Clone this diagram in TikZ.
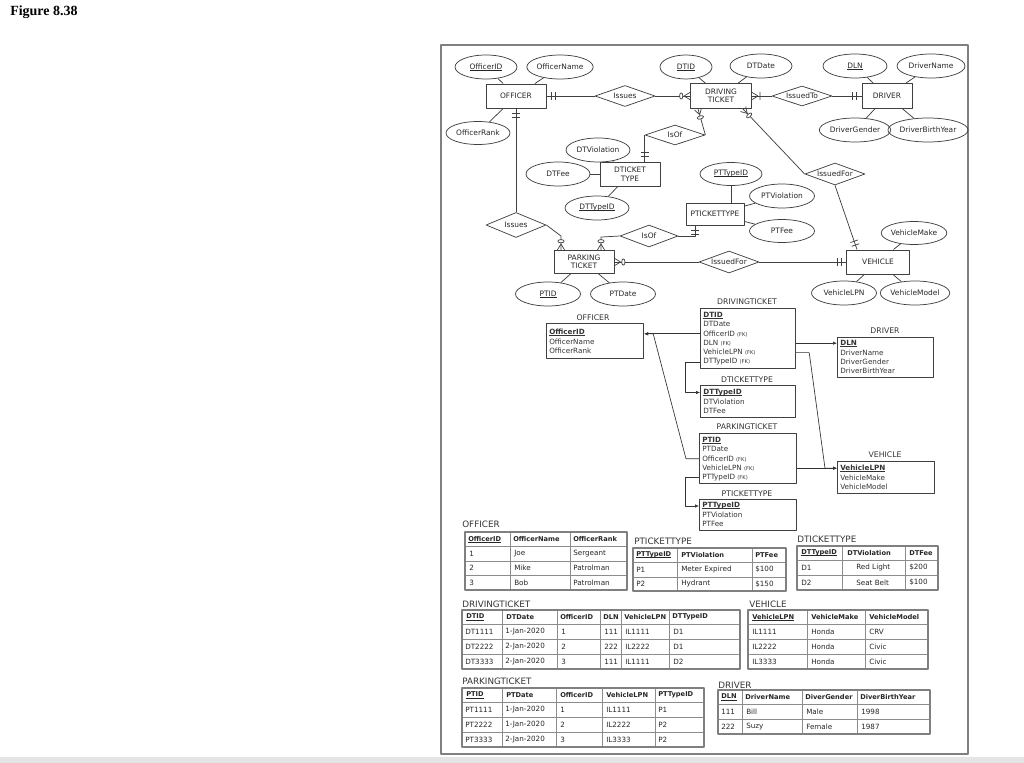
\documentclass[tikz,border=0pt]{standalone}
\usepackage{fontspec}
\setmainfont{DejaVu Sans}
\newfontfamily\titlefont{Liberation Serif}
\usetikzlibrary{shapes.geometric,arrows.meta,decorations.markings,calc}
\newcommand\uln[1]{{\setbox0\hbox{#1}\rlap{\raisebox{-0.7pt}{\rule{\wd0}{0.3pt}}}\box0}}
\newcommand\fkm{\ {\fontsize{3.9}{4.5}\selectfont(FK)}}
\newcommand\tcells[3]{\foreach \cx/\ct in {#3}{\node[#1] at (\cx,#2) {\ct};}}
\newcommand\tframe[6]{%
  \foreach \gx in {#5} \draw[tgrid] (\gx,#2) -- (\gx,#4);
  \foreach \gy in {#6} \draw[tgrid] (#1,\gy) -- (#3,\gy);
  \draw[tout] (#1,#2) rectangle (#3,#4);}
\tikzset{
  sz/.style 2 args={minimum width=#1*0.75pt, minimum height=#2*0.75pt},
  lnk/.style={draw=black!75, line width=0.55pt},
  erfont/.style={font=\fontsize{5.6}{6.4}\selectfont, text=black!85},
  attr/.style={ellipse, lnk, inner sep=0pt, erfont},
  ent/.style={rectangle, lnk, line width=0.7pt, inner sep=0pt, align=center, erfont},
  rel/.style={diamond, lnk, inner sep=0pt, aspect=2.9, erfont},
  mkone/.style={postaction={decorate, decoration={markings, mark=at position 0.999 with {\draw[lnk] (-3.5pt,-3pt)--(-3.5pt,3pt) (-6.5pt,-3pt)--(-6.5pt,3pt);}}}},
  mkzm/.style={postaction={decorate, decoration={markings, mark=at position 0.999 with {\draw[lnk] (-4.5pt,0pt)--(0pt,2.7pt) (-4.5pt,0pt)--(0pt,-2.7pt); \draw[lnk, fill=white] (-6.6pt,0pt) ellipse [x radius=1.2pt, y radius=2.4pt];}}}},
  mkom/.style={postaction={decorate, decoration={markings, mark=at position 0.999 with {\draw[lnk] (-4.5pt,0pt)--(0pt,2.7pt) (-4.5pt,0pt)--(0pt,-2.7pt) (-6pt,-3pt)--(-6pt,3pt);}}}},
  sbox/.style={rectangle, draw=black!75, line width=0.9pt, inner sep=0pt, anchor=north west},
  slab/.style={font=\fontsize{5.8}{6.5}\selectfont, text=black!80, inner sep=0pt},
  srow/.style={anchor=west, inner sep=0pt, font=\fontsize{5.4}{6}\selectfont, text=black!80},
  fkarrow/.style={draw=black!80, line width=0.5pt, -{Latex[length=3pt,width=2.6pt]}},
  tlab/.style={anchor=west, inner sep=0pt, font=\fontsize{6.6}{7}\selectfont, text=black!80},
  tgrid/.style={draw=black!45, line width=0.5pt},
  tout/.style={draw=black!50, line width=0.8pt},
  cell/.style={anchor=west, inner sep=0pt, font=\fontsize{5.4}{6}\selectfont, text=black!85},
  hcell/.style={anchor=west, inner sep=0pt, font=\fontsize{5}{6}\selectfont\bfseries, text=black!85},
}
\begin{document}
\begin{tikzpicture}[x=0.75pt, y=-0.75pt, line join=round]
\useasboundingbox (0,0) rectangle (1024,763);
\fill[black!10] (0,757) rectangle (1024,763);
\node[anchor=west, inner sep=0pt, font=\titlefont\bfseries\fontsize{10.5}{12}\selectfont] (title) at (10,12) {Figure 8.38};
\draw[draw=black!50, line width=0.8pt] (441,45) rectangle (968,754);

% ---------------- ER diagram ----------------
\node[attr, sz={62}{24}] (oid) at (486,67) {\uln{OfficerID}};
\node[attr, sz={66}{24}] (oname) at (560,67) {OfficerName};
\node[attr, sz={64}{23}] (orank) at (478,133) {OfficerRank};
\node[attr, sz={52}{24}] (dtid) at (686,67) {\uln{DTID}};
\node[attr, sz={62}{24}] (dtdate) at (761,66) {DTDate};
\node[attr, sz={64}{24}] (dln) at (855,66) {\uln{DLN}};
\node[attr, sz={68}{24}] (dname) at (931,66) {DriverName};
\node[attr, sz={64}{24}] (dgender) at (855,130) {DriverGender};
\node[attr, sz={66}{24}] (dbirth) at (928,130) {DriverBirthYear};
\node[ent, sz={60}{24}] (officer) at (516,96) {OFFICER};
\node[ent, sz={61}{25}] (dt) at (721,96) {DRIVING\\TICKET};
\node[ent, sz={50}{25}] (driver) at (887,96) {DRIVER};
\node[rel, sz={60}{21}] (iss1) at (625,96) {Issues};
\node[rel, sz={60}{20}] (issto) at (802,96) {IssuedTo};
\node[rel, sz={60}{20}] (isof1) at (675,135) {IsOf};
\node[attr, sz={64}{24}] (dtviol) at (598,150) {DTViolation};
\node[ent, sz={60}{24}] (dtt) at (630,174) {DTICKET\\TYPE};
\node[attr, sz={64}{24}] (dtfee) at (558,174) {DTFee};
\node[attr, sz={64}{24}] (dttid) at (597,208) {\uln{DTTypeID}};
\node[attr, sz={62}{23}] (pttid) at (731,174) {\uln{PTTypeID}};
\node[ent, sz={58}{22}] (ptt) at (715,214) {PTICKETTYPE};
\node[attr, sz={65}{24}] (ptviol) at (782,196) {PTViolation};
\node[attr, sz={65}{23}] (ptfee) at (782,231) {PTFee};
\node[rel, sz={60}{22}] (issfor1) at (835,174) {IssuedFor};
\node[ent, sz={63}{24}] (veh) at (878,262) {VEHICLE};
\node[attr, sz={65}{23}] (vmake) at (914,233) {VehicleMake};
\node[attr, sz={65}{24}] (vlpn) at (844,293) {VehicleLPN};
\node[attr, sz={66}{24}] (vmodel) at (915,293) {VehicleModel};
\node[rel, sz={60}{22}] (issfor2) at (729,262) {IssuedFor};
\node[rel, sz={60}{25}] (iss2) at (516,225) {Issues};
\node[rel, sz={58}{22}] (isof2) at (649,236) {IsOf};
\node[ent, sz={60}{23}] (pt) at (584,262) {PARKING\\TICKET};
\node[attr, sz={65}{24}] (ptid) at (548,294) {\uln{PTID}};
\node[attr, sz={65}{24}] (ptdate) at (623,294) {PTDate};

\draw[lnk] (oid) -- (officer);
\draw[lnk] (oname) -- (officer);
\draw[lnk] (orank) -- (officer);
\draw[lnk] (dtid) -- (dt);
\draw[lnk] (dtdate) -- (dt);
\draw[lnk] (dln) -- (driver);
\draw[lnk] (dname) -- (driver);
\draw[lnk] (dgender) -- (driver);
\draw[lnk] (dbirth) -- (driver);
\draw[lnk] (dtviol) -- (dtt);
\draw[lnk] (dtfee) -- (dtt);
\draw[lnk] (dttid) -- (dtt);
\draw[lnk] (pttid.south) -- (pttid.south |- ptt.north);
\draw[lnk] (ptviol) -- (ptt);
\draw[lnk] (ptfee) -- (ptt);
\draw[lnk] (vmake) -- (veh);
\draw[lnk] (vlpn) -- (veh);
\draw[lnk] (vmodel) -- (veh);
\draw[lnk] (ptid) -- (pt);
\draw[lnk] (ptdate) -- (pt);

\coordinate (dtb1) at ($(dt.south)+(-23,0)$);
\coordinate (dtb2) at ($(dt.south)+(22,0)$);
\coordinate (vtop) at ($(veh.north)+(-21,0)$);
\coordinate (ptt1) at ($(pt.north)+(-23,0)$);
\coordinate (ptt2) at ($(pt.north)+(17,0)$);
\coordinate (pttb) at ($(ptt.south)+(-20,0)$);

\draw[lnk, mkone] (iss1) -- (officer);
\draw[lnk, mkzm] (iss1) -- (dt);
\draw[lnk, mkom] (issto) -- (dt);
\draw[lnk, mkone] (issto) -- (driver);
\draw[lnk, mkzm] (isof1.east) -- (dtb1);
\draw[lnk, mkone] (isof1.west) -- (isof1.west |- dtt.north);
\draw[lnk, mkzm] (issfor1.west) -- (dtb2);
\draw[lnk, mkone] (issfor1.south) -- (vtop);
\draw[lnk, mkone] (iss2.north) -- (officer.south);
\draw[lnk, mkzm] (iss2.east) -- ($(ptt1)+(0,-14)$) -- (ptt1);
\draw[lnk, mkzm] (isof2.west) -- ($(ptt2)+(0,-13)$) -- (ptt2);
\draw[lnk, mkone] (isof2.east) -| (pttb);
\draw[lnk, mkzm] (issfor2) -- (pt);
\draw[lnk, mkone] (issfor2) -- (veh);

% ---------------- relational schema ----------------
\node[sbox, sz={97}{35}] (so) at (546,323) {};
\node[slab] (sol) at (593,318) {OFFICER};
\node[srow] (so1) at (549,332) {\textbf{\uln{OfficerID}}};
\node[srow] (so2) at (549,341.5) {OfficerName};
\node[srow] (so3) at (549,351) {OfficerRank};

\node[sbox, sz={95}{60}] (sdt) at (700,308) {};
\node[slab] (sdtl) at (747,302) {DRIVINGTICKET};
\node[srow] (sdt1) at (703,315) {\textbf{\uln{DTID}}};
\node[srow] (sdt2) at (703,324.4) {DTDate};
\node[srow] (sdt3) at (703,333.8) {OfficerID\fkm};
\node[srow] (sdt4) at (703,343.2) {DLN\fkm};
\node[srow] (sdt5) at (703,352.6) {VehicleLPN\fkm};
\node[srow] (sdt6) at (703,362) {DTTypeID\fkm};

\node[sbox, sz={96}{40}] (sdriver) at (837,337) {};
\node[slab] (sdriverl) at (885,331) {DRIVER};
\node[srow] (sdr1) at (840,343.2) {\textbf{\uln{DLN}}};
\node[srow] (sdr2) at (840,352.4) {DriverName};
\node[srow] (sdr3) at (840,361.6) {DriverGender};
\node[srow] (sdr4) at (840,370.8) {DriverBirthYear};

\node[sbox, sz={95}{32}] (sdtt) at (700,385) {};
\node[slab] (sdttl) at (747,380) {DTICKETTYPE};
\node[srow] (sdtt1) at (703,392.5) {\textbf{\uln{DTTypeID}}};
\node[srow] (sdtt2) at (703,401.5) {DTViolation};
\node[srow] (sdtt3) at (703,410.5) {DTFee};

\node[sbox, sz={97}{50}] (spt) at (699,433) {};
\node[slab] (sptl) at (747,427) {PARKINGTICKET};
\node[srow] (spt1) at (702,440) {\textbf{\uln{PTID}}};
\node[srow] (spt2) at (702,449.4) {PTDate};
\node[srow] (spt3) at (702,458.8) {OfficerID\fkm};
\node[srow] (spt4) at (702,468.2) {VehicleLPN\fkm};
\node[srow] (spt5) at (702,477.6) {PTTypeID\fkm};

\node[sbox, sz={97}{32}] (sveh) at (837,461) {};
\node[slab] (svehl) at (885,455) {VEHICLE};
\node[srow] (sveh1) at (840,468.2) {\textbf{\uln{VehicleLPN}}};
\node[srow] (sveh2) at (840,477.4) {VehicleMake};
\node[srow] (sveh3) at (840,486.6) {VehicleModel};

\node[sbox, sz={97}{31}] (sptt) at (699,499) {};
\node[slab] (spttl) at (747,494) {PTICKETTYPE};
\node[srow] (sptt1) at (702,506) {\textbf{\uln{PTTypeID}}};
\node[srow] (sptt2) at (702,515) {PTViolation};
\node[srow] (sptt3) at (702,524) {PTFee};

\draw[fkarrow] (sdt.west |- sdt3) -- (so.east |- sdt3);
\draw[fkarrow] (spt.west |- spt3) -- ++(-13,0) -- ($(so.east |- sdt3)+(9,0)$) -- (so.east |- sdt3);
\draw[fkarrow] (sdt.west |- sdt6) -- ++(-15,0) |- (sdtt.west |- sdtt1);
\draw[fkarrow] (sdt.east |- sdt4) -- (sdriver.west |- sdt4);
\draw[fkarrow] (sdt.east |- sdt5) -- ++(13,0) -- ($(sveh.west |- sveh1)+(-12,0)$) -- (sveh.west |- sveh1);
\draw[fkarrow] (spt.east |- spt4) -- (sveh.west |- spt4);
\draw[fkarrow] (spt.west |- spt5) -- ++(-14,0) |- (sptt.west |- sptt1);

% ---------------- tables ----------------
% OFFICER
\node[tlab] (tofficer) at (462,524) {OFFICER};
\tframe{465}{532}{627}{590}{510,570}{546,561,575}
\tcells{hcell}{539}{468/\uln{OfficerID},513/OfficerName,573/OfficerRank}
\tcells{cell}{553.5}{469/1,514/Joe,573/Sergeant}
\tcells{cell}{568}{469/2,514/Mike,573/Patrolman}
\tcells{cell}{582.5}{469/3,514/Bob,573/Patrolman}

% PTICKETTYPE
\node[tlab] (tptt) at (634,541) {PTICKETTYPE};
\tframe{633}{548}{786}{591}{677,752}{562,577}
\tcells{hcell}{555}{636/\uln{PTTypeID},681/PTViolation,755/PTFee}
\tcells{cell}{569.5}{636/P1,681/Meter Expired,755/\$100}
\tcells{cell}{584}{636/P2,681/Hydrant,755/\$150}

% DTICKETTYPE
\node[tlab] (tdtt) at (797,539) {DTICKETTYPE};
\tframe{797}{546}{938}{590}{842,905}{560,575}
\tcells{hcell}{553}{801/\uln{DTTypeID},847/DTViolation,909/DTFee}
\tcells{cell}{567.5}{801/D1,856/Red Light,909/\$200}
\tcells{cell}{582.5}{801/D2,856/Seat Belt,909/\$100}

% DRIVINGTICKET
\node[tlab] (tdt) at (462,604) {DRIVINGTICKET};
\tframe{462}{610}{740}{669}{502,557,600,621,669}{624,639,654}
\tcells{hcell}{617}{466/\uln{DTID},506/DTDate,560/OfficerID,603/DLN,624/VehicleLPN,672/DTTypeID}
\tcells{cell}{631.5}{465/DT1111,505/1-Jan-2020,561/1,604/111,625/IL1111,673/D1}
\tcells{cell}{646.5}{465/DT2222,505/2-Jan-2020,561/2,604/222,625/IL2222,673/D1}
\tcells{cell}{661.5}{465/DT3333,505/2-Jan-2020,561/3,604/111,625/IL1111,673/D2}

% VEHICLE
\node[tlab] (tveh) at (749,604) {VEHICLE};
\tframe{748}{610}{928}{669}{807,865}{624,639,654}
\tcells{hcell}{617}{752/\uln{VehicleLPN},811/VehicleMake,869/VehicleModel}
\tcells{cell}{631.5}{752/IL1111,811/Honda,869/CRV}
\tcells{cell}{646.5}{752/IL2222,811/Honda,869/Civic}
\tcells{cell}{661.5}{752/IL3333,811/Honda,869/Civic}

% PARKINGTICKET
\node[tlab] (tpt) at (462,681) {PARKINGTICKET};
\tframe{462}{688}{704}{747}{502,556,602,655}{702,717,732}
\tcells{hcell}{695}{466/\uln{PTID},506/PTDate,560/OfficerID,606/VehicleLPN,658/PTTypeID}
\tcells{cell}{709.5}{465/PT1111,505/1-Jan-2020,560/1,606/IL1111,658/P1}
\tcells{cell}{724.5}{465/PT2222,505/1-Jan-2020,560/2,606/IL2222,658/P2}
\tcells{cell}{739.5}{465/PT3333,505/2-Jan-2020,560/3,606/IL3333,658/P2}

% DRIVER
\node[tlab] (tdr) at (718,685) {DRIVER};
\tframe{718}{690}{930}{734}{742,802,857}{704,719}
\tcells{hcell}{697}{721/\uln{DLN},745/DriverName,805/DiverGender,860/DiverBirthYear}
\tcells{cell}{711.5}{721/111,746/Bill,806/Male,861/1998}
\tcells{cell}{726.5}{721/222,746/Suzy,806/Female,861/1987}
\end{tikzpicture}
\end{document}
